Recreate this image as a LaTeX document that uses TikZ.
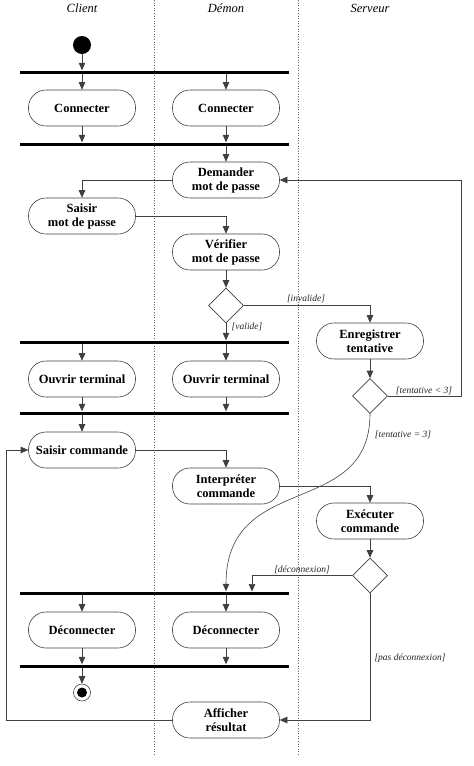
\documentclass[tikz,border=0pt]{standalone}
\usepackage{fontspec}
\setmainfont{Liberation Serif}
\usetikzlibrary{arrows.meta,shapes.geometric}

\begin{document}
\begin{tikzpicture}[x=1pt,y=1pt,yscale=-1,xscale=1,
    activite/.style={draw=black!75,line width=0.6pt,rectangle,rounded corners=17.5pt,minimum width=107pt,minimum height=36pt,inner sep=1pt,align=center,font=\fontsize{12.5}{14}\selectfont\bfseries},
    barre/.style={fill=black,minimum width=269pt,minimum height=3pt,inner sep=0pt},
    choix/.style={draw=black!75,line width=0.6pt,diamond,minimum width=35pt,minimum height=35pt,inner sep=0pt},
    garde/.style={font=\fontsize{9.5}{11}\selectfont\itshape,text=black!85,inner sep=1pt},
    couloir/.style={font=\fontsize{12.5}{14}\selectfont\itshape},
    flux/.style={draw=black!75,line width=0.6pt,-{Triangle[length=7.5pt,width=6.5pt]}}]
    \useasboundingbox (0,0) rectangle (474,766);

    %Swimlanes
    \draw [black!60,dotted,line width=0.6pt] (154,0) -- (154,755) ;
    \draw [black!60,dotted,line width=0.6pt] (298,0) -- (298,755) ;
    % Text Node
    \node [couloir] (tclient) at (82,8) {Client};
    \node [couloir] (tdemon) at (226,8) {Démon};
    \node [couloir] (tserveur) at (370,8) {Serveur};

    %Shape: Circle
    \node [circle,fill=black,minimum size=18pt,inner sep=0pt] (debut) at (82,45) {};
    %Shape: Bars
    \node [barre] (barre1) at (154.5,72) {};
    \node [barre] (barre2) at (154.5,144) {};
    \node [barre] (barre3) at (154.5,342) {};
    \node [barre] (barre4) at (154.5,413) {};
    \node [barre] (barre5) at (154.5,593) {};
    \node [barre] (barre6) at (154.5,666) {};

    %Shape: Activities
    \node [activite] (cnxc) at (82,108) {Connecter};
    \node [activite] (cnxd) at (226,108) {Connecter};
    \node [activite] (demander) at (226,180) {Demander\\mot de passe};
    \node [activite] (saisirmdp) at (82,216) {Saisir\\mot de passe};
    \node [activite] (verifier) at (226,252) {Vérifier\\mot de passe};
    \node [choix] (choix1) at (226,305.5) {};
    \node [activite] (enreg) at (370,341) {Enregistrer\\tentative};
    \node [choix] (choix2) at (370,396) {};
    \node [activite] (ouvrirc) at (82,379) {Ouvrir terminal};
    \node [activite] (ouvrird) at (226,379) {Ouvrir terminal};
    \node [activite] (saisircmd) at (82,450) {Saisir commande};
    \node [activite] (interp) at (226,486) {Interpréter\\commande};
    \node [activite] (executer) at (370,521) {Exécuter\\commande};
    \node [choix] (choix3) at (370,575.5) {};
    \node [activite] (decnxc) at (82,630) {Déconnecter};
    \node [activite] (decnxd) at (226,630) {Déconnecter};
    \node [activite] (afficher) at (226,720) {Afficher\\résultat};

    %Shape: End
    \node [circle,draw=black!75,line width=0.6pt,minimum size=17pt,inner sep=0pt] (fin) at (82,692.5) {};
    \node [circle,fill=black,minimum size=10pt,inner sep=0pt] (finc) at (82,692.5) {};

    \coordinate (retour) at (461,180);
    \coordinate (flechedec) at (252,591.5);
    \coordinate (boucle) at (6,720);

    %Straight Lines
    \draw [flux] (debut) -- (debut |- barre1.north) ;
    \draw [flux] (barre1.south -| cnxc) -- (cnxc) ;
    \draw [flux] (barre1.south -| cnxd) -- (cnxd) ;
    \draw [flux] (cnxc) -- (cnxc |- barre2.north) ;
    \draw [flux] (cnxd) -- (cnxd |- barre2.north) ;
    \draw [flux] (barre2.south -| demander) -- (demander) ;
    \draw [flux] (demander.west) -| (saisirmdp.north) ;
    \draw [flux] (saisirmdp.east) -| (verifier.north) ;
    \draw [flux] (verifier) -- (choix1) ;
    \draw [flux] (choix1.east) -| (enreg.north) ;
    \draw [flux] (choix1) -- (choix1 |- barre3.north) ;
    \draw [flux] (enreg) -- (choix2) ;
    \draw [flux] (choix2.east) -| (retour) -- (demander.east) ;
    \draw [flux] (barre3.south -| ouvrirc) -- (ouvrirc) ;
    \draw [flux] (barre3.south -| ouvrird) -- (ouvrird) ;
    \draw [flux] (ouvrirc) -- (ouvrirc |- barre4.north) ;
    \draw [flux] (ouvrird) -- (ouvrird |- barre4.north) ;
    \draw [flux] (barre4.south -| saisircmd) -- (saisircmd) ;
    \draw [flux] (saisircmd.east) -| (interp.north) ;
    \draw [flux] (interp.east) -| (executer.north) ;
    \draw [flux] (executer) -- (choix3) ;
    \draw [flux] (choix3.west) -| (flechedec) ;
    %Curve Lines
    \draw [flux] (choix2.south) .. controls (370,520) and (226,470) .. (barre5.north -| decnxd) ;
    \draw [flux] (barre5.south -| decnxc) -- (decnxc) ;
    \draw [flux] (barre5.south -| decnxd) -- (decnxd) ;
    \draw [flux] (decnxc) -- (decnxc |- barre6.north) ;
    \draw [flux] (decnxd) -- (decnxd |- barre6.north) ;
    \draw [flux] (barre6.south -| fin) -- (fin) ;
    \draw [flux] (choix3.south) |- (afficher.east) ;
    \draw [flux] (afficher.west) -- (boucle) |- (saisircmd.west) ;

    % Text Node
    \node [garde] (ginvalide) at (306,299) {[invalide]};
    \node [garde] (gvalide) at (247,327) {[valide]};
    \node [garde] (gmoins) at (424,391) {[tentative < 3]};
    \node [garde] (gegal) at (403,435) {[tentative = 3]};
    \node [garde] (gdeco) at (302,570) {[déconnexion]};
    \node [garde] (gpasdeco) at (410,658) {[pas déconnexion]};
\end{tikzpicture}
\end{document}
